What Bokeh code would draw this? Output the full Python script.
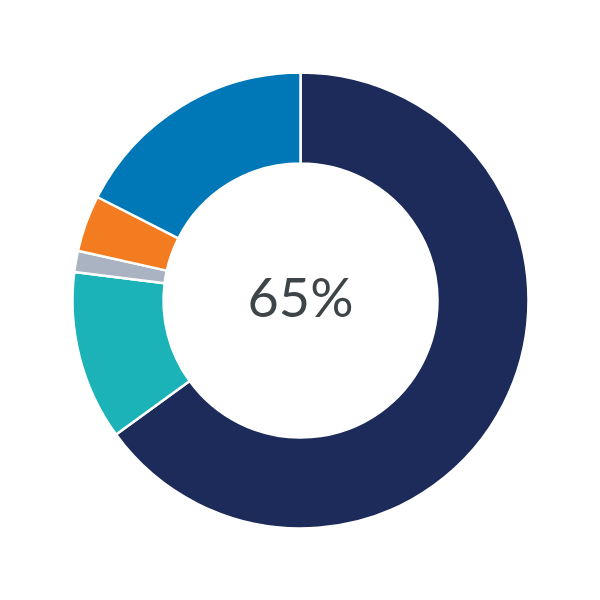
import numpy as np
from bokeh.plotting import figure
from bokeh.models import ColumnDataSource
from bokeh.core.properties import value
from bokeh.embed import file_html
from bokeh.resources import INLINE

categories = ["Navy", "Teal", "Gray", "Orange", "Blue"]
values = [65.0, 12.0, 1.5, 4.0, 17.5]
colors = ["#1c2b5a", "#1bb3b8", "#aab3c1", "#f47c20", "#0077b6"]
center_label = "65%"

vals = np.array(values)
frac = vals / vals.sum()
cum = np.concatenate([[0.0], np.cumsum(frac)])
start = np.pi / 2 - cum[:-1] * 2 * np.pi
end = np.pi / 2 - cum[1:] * 2 * np.pi

src = ColumnDataSource(dict(cat=categories, start=start, end=end, color=colors))

p = figure(width=584, height=584, x_range=(-300, 284), y_range=(-284, 300),
           output_backend="svg", toolbar_location=None, min_border=0)
p.axis.visible = False
p.grid.visible = False
p.outline_line_color = None
p.background_fill_color = "white"

p.annular_wedge(x=0, y=0, inner_radius=137, outer_radius=228,
                start_angle="start", end_angle="end", direction="clock",
                fill_color="color", line_color="white", line_width=2.5, source=src)

p.text(x=[0], y=[4], text=[center_label], text_align="center", text_baseline="middle",
       text_font=value("Lato"), text_font_size="54px", text_color="#3d4549")

open("out.html", "w").write(file_html(p, INLINE))
